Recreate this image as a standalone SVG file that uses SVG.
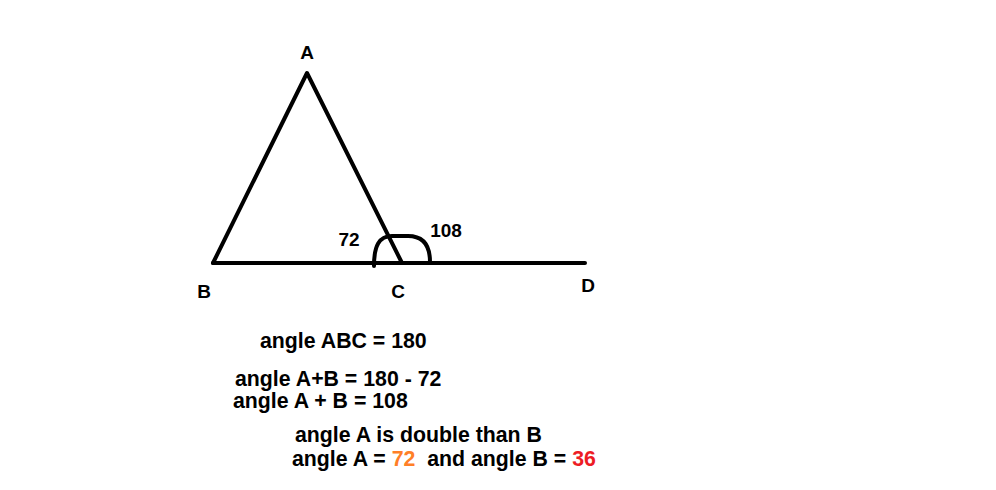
<svg xmlns="http://www.w3.org/2000/svg" width="996" height="490" viewBox="0 0 996 490">
<style>
.ln{stroke:#000;stroke-width:4;fill:none;stroke-linecap:round;stroke-linejoin:round}
.lb{font-family:"Liberation Sans",Arial,sans-serif;font-weight:bold;font-size:19px;fill:#000;text-anchor:middle}
.tx{font-family:"Liberation Sans",Arial,sans-serif;font-weight:bold;font-size:21.3px;fill:#000}
</style>
<rect width="996" height="490" fill="#fff"/>
<g id="connectors">
<path class="ln" d="M213,263 L307,73 L402,263"/>
<path class="ln" d="M213,263 L585,263"/>
<path class="ln" d="M374,266 C374,246 379,236 392,236 L408,236 C424,236 430,246 430,262"/>
</g>
<g id="A"><text class="lb" x="307" y="59">A</text></g>
<g id="B"><text class="lb" x="204" y="298">B</text></g>
<g id="C"><text class="lb" x="398" y="298">C</text></g>
<g id="D"><text class="lb" x="588" y="292">D</text></g>
<g id="angles">
<text class="lb" x="349" y="246">72</text>
<text class="lb" x="446" y="237">108</text>
</g>
<g id="notes">
<text class="tx" x="260" y="348">angle ABC = 180</text>
<text class="tx" x="235" y="386">angle A+B = 180 - 72</text>
<text class="tx" x="233" y="408">angle A + B = 108</text>
<text class="tx" x="295" y="442">angle A is double than B</text>
<text class="tx" x="292" y="466" xml:space="preserve">angle A = <tspan fill="#ff7f27">72</tspan>  and angle B = <tspan fill="#ed1c24">36</tspan></text>
</g>
</svg>
